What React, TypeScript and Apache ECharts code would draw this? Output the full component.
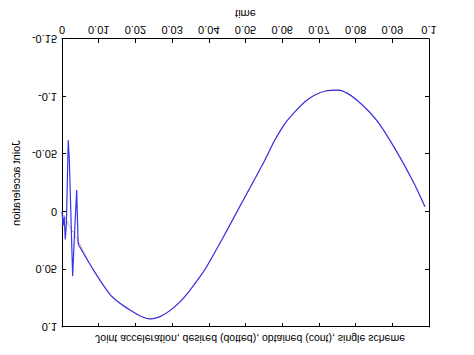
import React, { useEffect, useRef } from "react";
import * as echarts from "echarts";

const titleText = "Joint acceleration, desired (dotted), obtained (cont), single scheme";
const xName = "time";
const yName = "Joint acceleration";

// transient part of the obtained acceleration
const transientT = [0, 0.0003, 0.0006, 0.0009, 0.0012, 0.0017, 0.002, 0.0029, 0.0034, 0.004, 0.0044];
const transientV = [0, 0.012, 0.004, 0.024, 0.01, -0.062, -0.045, 0.056, 0.02, -0.019, 0.028];

// smooth part of the obtained acceleration
const smoothT = [0.0044, 0.0085, 0.0131, 0.0158, 0.0185, 0.0213, 0.024, 0.0267, 0.0294, 0.0322, 0.0349, 0.0376, 0.0394, 0.044, 0.0494, 0.0553, 0.058, 0.0608, 0.0635, 0.0662, 0.0689, 0.0721, 0.0753, 0.0778, 0.0803, 0.0835, 0.0867, 0.0912, 0.0957, 0.0989];
const smoothV = [0.028, 0.0502, 0.0718, 0.0794, 0.0852, 0.0904, 0.093, 0.091, 0.0858, 0.078, 0.0679, 0.0563, 0.0477, 0.0216, -0.0102, -0.045, -0.0623, -0.0768, -0.0869, -0.0956, -0.1014, -0.1051, -0.1057, -0.1028, -0.097, -0.0875, -0.0753, -0.0522, -0.0261, -0.0044];

// desired acceleration (hidden under the obtained one except at the start)
const desiredT = [0, 0.002, 0.004, 0.0085, 0.0131, 0.0158, 0.0185, 0.0213, 0.024, 0.0267, 0.0294, 0.0322, 0.0349, 0.0376, 0.0394, 0.044, 0.0494, 0.0553, 0.058, 0.0608, 0.0635, 0.0662, 0.0689, 0.0721, 0.0753, 0.0778, 0.0803, 0.0835, 0.0867, 0.0912, 0.0957, 0.0989];
const desiredV = [0, 0.012, 0.023, 0.0502, 0.0718, 0.0794, 0.0852, 0.0904, 0.093, 0.091, 0.0858, 0.078, 0.0679, 0.0563, 0.0477, 0.0216, -0.0102, -0.045, -0.0623, -0.0768, -0.0869, -0.0956, -0.1014, -0.1051, -0.1057, -0.1028, -0.097, -0.0875, -0.0753, -0.0522, -0.0261, -0.0044];

export default function App() {
  const ref = useRef<HTMLDivElement>(null);
  useEffect(() => {
    if (!ref.current) return;
    const chart = echarts.init(ref.current, null, { renderer: "svg" });
    const font = "Liberation Sans, Arial, sans-serif";
    const lbl = { color: "#000", fontSize: 11, fontFamily: font };
    const line = { show: true, onZero: false, lineStyle: { color: "#000", width: 1 } };
    const tick = { show: true, inside: true, length: 4, lineStyle: { color: "#000" } };
    const blue = "#3535e8";
    chart.setOption({
      animation: false,
      backgroundColor: "#fff",
      title: {
        text: titleText,
        left: 245,
        textAlign: "center",
        top: 6,
        textStyle: { color: "#000", fontSize: 10.5, fontWeight: "normal", fontFamily: font },
      },
      grid: { left: 62, right: 45, top: 28, bottom: 39, containLabel: false },
      xAxis: [
        {
          type: "value",
          min: 0,
          max: 0.1,
          interval: 0.01,
          position: "bottom",
          name: xName,
          nameLocation: "middle",
          nameGap: 20,
          nameTextStyle: lbl,
          axisLine: line,
          axisTick: tick,
          axisLabel: { ...lbl, margin: 4 },
          splitLine: { show: false },
        },
        {
          type: "value",
          min: 0,
          max: 0.1,
          interval: 0.01,
          position: "top",
          axisLine: line,
          axisTick: tick,
          axisLabel: { show: false },
          splitLine: { show: false },
        },
      ],
      yAxis: [
        {
          type: "value",
          min: -0.15,
          max: 0.1,
          interval: 0.05,
          position: "left",
          name: yName,
          nameLocation: "middle",
          nameGap: 36,
          nameTextStyle: lbl,
          axisLine: line,
          axisTick: tick,
          axisLabel: { ...lbl, margin: 5 },
          splitLine: { show: false },
        },
        {
          type: "value",
          min: -0.15,
          max: 0.1,
          interval: 0.05,
          position: "right",
          axisLine: line,
          axisTick: tick,
          axisLabel: { show: false },
          splitLine: { show: false },
        },
      ],
      series: [
        {
          type: "line",
          name: "desired",
          data: desiredT.map((t, i) => [t, desiredV[i]]),
          showSymbol: false,
          smooth: 0.3,
          lineStyle: { color: "#e05050", width: 1, type: "dotted" },
          z: 1,
        },
        {
          type: "line",
          name: "obtained",
          data: transientT.map((t, i) => [t, transientV[i]]),
          showSymbol: false,
          smooth: false,
          lineStyle: { color: blue, width: 1.2 },
          z: 2,
        },
        {
          type: "line",
          name: "obtained",
          data: smoothT.map((t, i) => [t, smoothV[i]]),
          showSymbol: false,
          smooth: 0.3,
          lineStyle: { color: blue, width: 1.2 },
          z: 2,
        },
      ],
    });
    return () => chart.dispose();
  }, []);
  return (
    <div
      style={{
        position: "absolute",
        left: 0,
        top: 0,
        width: 474,
        height: 355,
        transform: "scaleY(-1)",
        background: "#fff",
      }}
    >
      <div ref={ref} style={{ width: 474, height: 355 }} />
    </div>
  );
}
